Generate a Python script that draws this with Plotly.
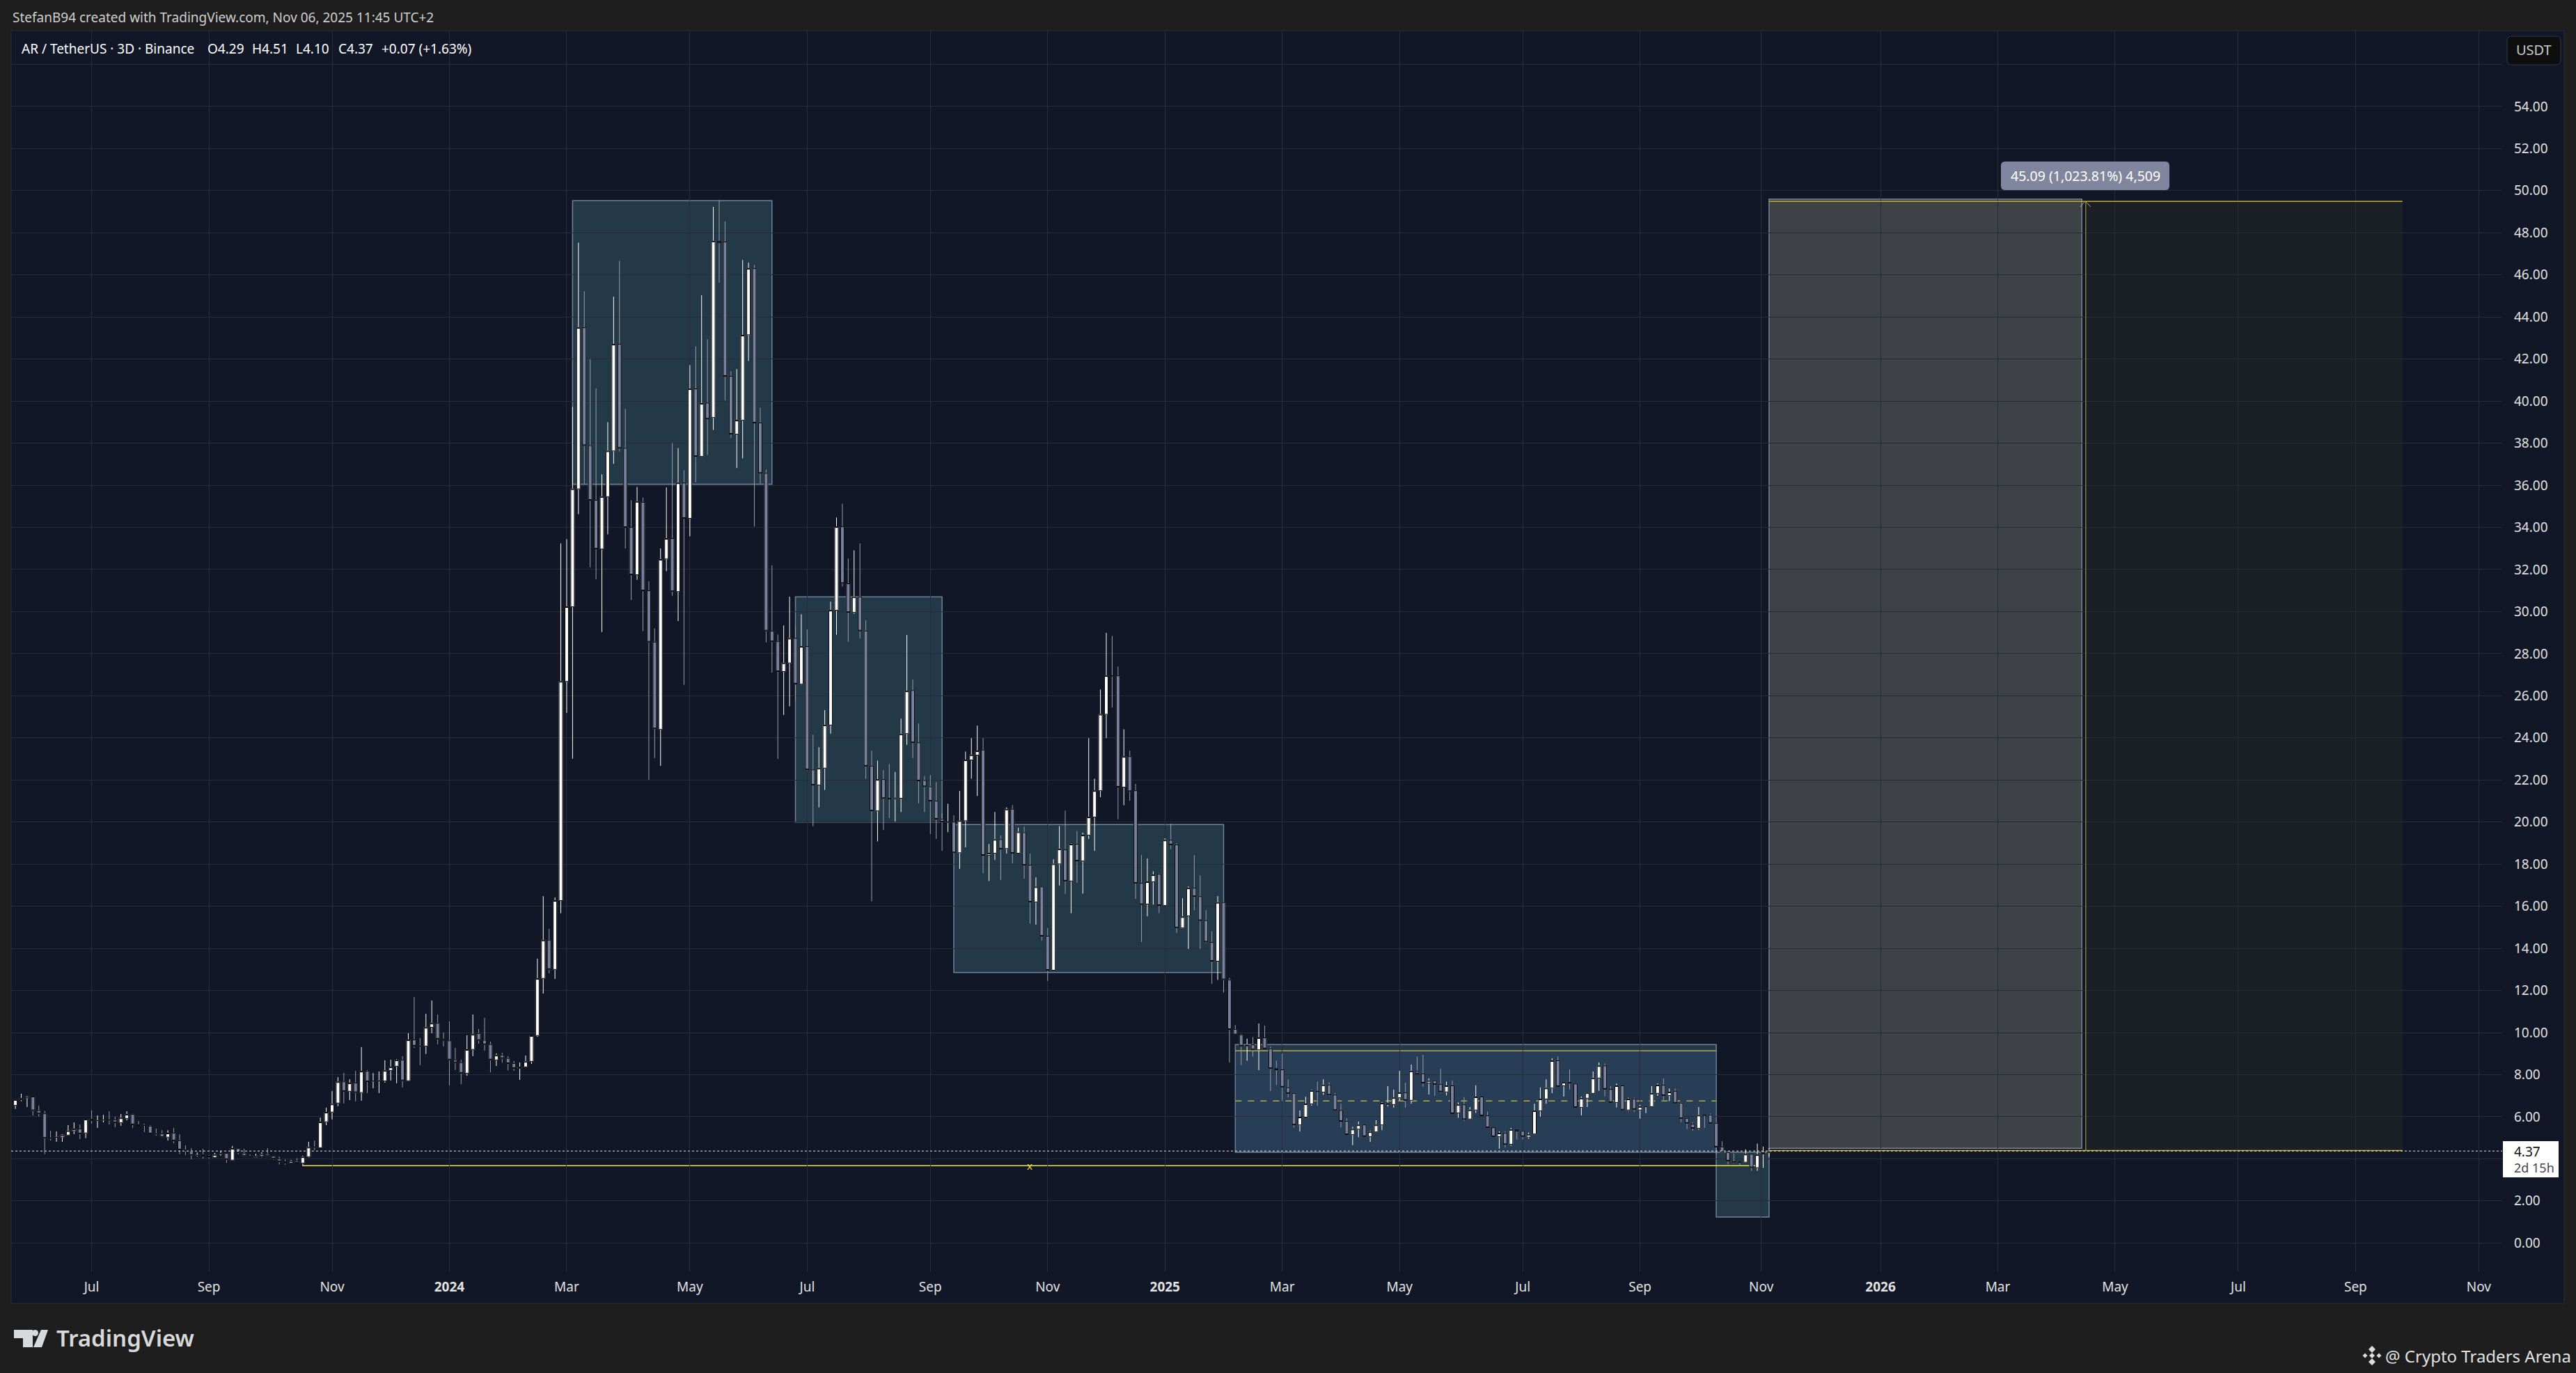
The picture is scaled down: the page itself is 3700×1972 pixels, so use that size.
import pandas as pd
import plotly.graph_objects as go

# 3D candles
opens = [6.54,6.81,6.89,6.94,6.29,6.14,4.99,5.02,5.03,5.13,5.33,5.42,5.23,5.89,5.81,5.84,5.85,5.85,5.72,5.92,
    6.11,5.62,5.60,5.55,5.19,5.19,5.03,5.22,4.86,4.43,4.35,4.16,4.19,4.13,4.07,4.24,4.26,3.94,4.49,4.27,
    4.12,4.07,4.13,4.23,4.12,3.99,3.86,3.80,3.90,3.80,4.10,
    4.56,4.53,5.76,6.22,6.65,7.66,7.21,7.60,7.15,8.16,7.69,7.70,7.70,8.20,8.40,8.69,7.71,9.65,9.36,9.36,
    10.25,10.44,9.68,9.61,8.70,8.57,8.07,9.20,9.95,9.63,9.43,8.70,8.92,8.77,8.53,8.30,8.37,8.63,9.86,12.57,
    14.39,13.0,16.27,
    26.68,30.23,35.83,43.49,37.89,35.29,32.97,35.46,37.63,42.7,37.76,34.0,31.75,35.19,30.99,28.55,24.4,32.5,33.47,30.95,
    36.11,34.43,40.58,37.37,39.91,39.22,47.6,47.56,41.18,38.43,39.09,43.15,46.3,38.96,36.57,
    29.07,28.58,27.15,27.56,28.73,26.56,28.34,22.48,21.76,22.56,24.61,30.06,34.03,31.32,29.96,30.7,29.08,22.66,20.53,22.02,
    21.12,21.08,21.13,24.2,26.25,23.77,21.98,21.68,21.0,20.14,19.99,20.0,18.54,20.06,22.95,23.18,23.42,18.42,18.52,19.17,
    18.74,20.61,18.52,19.5,17.95,16.2,16.92,14.58,12.96,18.01,18.68,17.2,18.95,18.15,19.38,20.24,21.49,25.12,26.95,26.95,
    21.66,23.11,21.49,17.09,16.1,17.16,17.52,16.04,19.14,18.92,14.97,15.54,16.86,16.46,15.32,14.28,13.39,16.18,12.49,
    10.15,9.89,9.36,9.42,9.18,9.75,9.23,8.29,8.23,7.38,7.11,5.61,5.98,6.61,7.21,7.17,7.51,7.03,6.3,5.78,
    5.15,5.41,5.61,5.06,5.28,5.61,6.58,6.58,6.9,7.14,6.78,8.17,8.04,7.6,7.71,7.54,7.18,7.47,6.18,6.57,
    5.89,6.32,6.94,6.05,5.48,5.05,5.22,4.69,5.39,5.31,5.03,5.18,6.28,6.84,7.36,8.66,7.47,7.63,7.56,6.44,
    6.88,7.11,7.84,8.42,7.3,6.68,7.47,6.32,6.84,6.32,6.48,6.48,7.11,7.5,7.01,7.21,6.65,5.92,5.65,5.45,
    6.08,6.08,5.69,4.56,4.3,3.86,3.85,3.84,4.22,3.58,4.23,4.29]
highs = [6.81,7.09,6.99,6.94,6.53,6.28,5.33,5.30,5.17,5.60,5.73,5.63,5.88,6.30,6.06,6.09,6.26,6.0,6.13,6.26,
    6.15,5.80,5.67,5.60,5.44,5.36,5.36,5.47,5.17,4.64,4.51,4.30,4.48,4.17,4.28,4.37,4.27,4.61,4.49,4.48,
    4.21,4.24,4.31,4.51,4.13,4.10,3.97,3.95,4.03,4.15,4.81,
    4.87,5.96,6.43,7.22,7.88,8.08,7.78,8.18,9.31,8.22,8.08,8.15,8.68,8.71,8.74,8.88,9.97,11.69,9.74,10.89,
    11.52,10.86,10.0,10.53,9.27,8.71,9.87,10.86,10.17,10.70,9.57,9.01,9.04,8.88,8.65,8.58,8.91,9.85,13.51,16.48,
    14.93,16.42,33.24,
    33.44,39.72,47.53,45.22,42.0,40.61,36.52,39.0,44.96,46.67,39.63,35.29,35.92,35.42,31.44,29.2,33.0,35.9,38.0,37.77,
    36.72,41.71,42.6,45.03,42.94,49.23,49.54,48.54,41.42,41.52,46.71,46.58,46.47,39.69,36.75,
    32.2,28.91,29.34,30.71,29.3,29.87,29.15,24.15,23.56,25.32,30.47,34.47,35.13,32.52,32.91,33.24,29.58,23.39,22.92,22.47,
    22.76,22.38,24.91,28.89,26.77,24.68,22.18,22.24,21.9,20.4,20.87,20.32,21.48,23.35,23.99,24.58,23.99,18.96,20.48,19.36,
    20.7,20.81,19.73,19.78,18.5,17.37,16.94,14.97,18.23,19.81,20.54,18.99,19.58,19.5,23.99,22.06,26.3,28.99,28.84,27.38,
    24.41,23.39,21.81,18.43,18.27,17.66,17.58,19.23,19.92,18.99,16.38,16.94,18.43,17.47,15.82,14.81,16.48,16.2,12.6,
    10.35,9.93,9.71,9.79,10.43,10.33,9.33,8.67,9.0,7.77,7.11,6.3,6.95,7.29,7.67,7.78,7.64,7.12,6.62,5.93,
    5.52,5.77,5.61,5.34,5.83,6.7,7.45,7.29,8.18,7.62,8.48,8.86,8.94,7.82,7.71,8.28,7.67,7.73,6.68,6.93,
    6.46,7.49,6.94,6.24,5.48,5.3,5.3,5.47,5.41,5.32,5.25,6.62,7.39,7.78,8.78,8.86,7.63,8.25,7.56,6.96,
    7.13,8.15,8.58,8.53,7.45,7.58,7.47,6.9,6.9,6.57,6.49,7.45,7.58,7.82,7.34,7.34,6.68,5.92,5.74,6.46,
    6.08,6.15,5.69,4.84,4.36,4.25,3.86,4.45,4.23,4.72,4.58,4.51]
lows = [6.37,6.74,6.46,6.06,6.01,4.22,4.87,4.81,4.81,5.12,5.17,4.94,4.98,5.67,5.47,5.73,5.63,5.50,5.57,5.83,
    5.47,5.58,5.27,5.18,5.10,5.0,4.87,4.74,4.22,4.18,3.98,4.11,4.01,4.01,4.06,4.15,3.81,3.93,4.21,4.11,
    4.06,4.06,4.09,4.11,3.95,3.73,3.72,3.79,3.79,3.65,4.06,
    4.41,4.52,5.60,5.87,6.50,6.63,6.79,6.73,6.76,7.12,7.35,7.12,7.62,7.72,7.59,7.39,7.71,9.27,8.45,8.98,
    9.97,9.44,9.34,7.49,8.22,7.55,7.95,8.88,9.47,9.14,8.11,8.41,8.57,8.20,8.18,7.75,8.37,8.51,9.80,11.85,
    12.81,12.55,15.67,
    25.19,23.01,34.63,36.05,32.1,31.53,29.03,33.67,37.02,37.6,33.0,30.55,31.51,29.07,22.01,23.04,22.67,31.92,30.75,29.55,
    26.52,33.58,36.14,37.37,37.44,38.63,45.62,40.03,38.25,36.82,37.28,41.91,34.04,36.08,28.54,
    27.1,23.0,25.09,25.5,25.76,26.52,22.43,19.8,20.7,21.52,24.2,28.9,31.19,28.57,29.9,28.73,22.05,16.23,19.08,19.62,
    20.19,20.03,20.48,23.67,23.04,20.89,20.48,19.43,19.2,18.63,19.52,18.54,17.78,18.8,22.06,21.24,17.57,17.2,18.2,17.25,
    18.5,18.04,18.52,17.3,15.17,15.13,14.37,12.45,12.95,16.99,16.58,15.67,17.11,16.6,19.2,18.63,21.18,23.99,25.44,20.13,
    20.8,21.01,16.35,14.3,15.52,16.08,15.67,16.02,18.71,14.73,14.96,13.97,15.8,13.97,14.24,12.32,12.5,11.9,8.58,
    9.88,8.45,8.66,8.86,8.21,9.23,7.22,7.51,6.74,6.92,5.49,5.3,5.98,6.53,6.52,7.04,6.98,6.3,5.49,5.14,
    4.65,5.03,5.05,4.8,5.28,5.36,6.49,6.43,6.74,6.43,6.62,8.04,7.43,7.06,6.99,7.12,7.01,6.15,5.95,5.8,
    5.87,6.18,6.04,5.47,5.03,4.48,4.54,4.62,4.92,4.92,4.95,5.18,6.0,6.62,7.12,7.44,6.96,7.29,6.44,6.06,
    6.46,7.1,7.23,6.97,6.68,6.44,6.32,6.28,6.23,5.91,6.17,6.47,6.99,6.79,6.74,6.65,5.74,5.41,5.34,5.39,
    5.47,5.69,4.25,4.28,3.73,3.79,3.67,3.81,3.43,3.43,3.57,4.10]
closes = [6.81,6.87,6.95,6.29,6.14,4.98,4.98,5.03,5.13,5.33,5.42,5.19,5.88,5.82,5.82,5.85,5.84,5.72,5.94,6.11,
    5.62,5.59,5.59,5.19,5.18,5.03,5.22,4.86,4.43,4.37,4.17,4.17,4.13,4.08,4.20,4.26,3.97,4.49,4.30,4.12,
    4.07,4.12,4.22,4.12,3.99,3.86,3.80,3.89,3.80,4.09,4.55,
    4.55,5.75,6.21,6.60,7.66,7.21,7.60,7.15,8.16,7.67,7.70,7.71,8.19,8.36,8.69,7.71,9.65,9.36,9.35,10.24,
    10.44,9.69,9.61,8.70,8.57,8.07,9.19,9.91,9.63,9.43,8.70,8.92,8.77,8.53,8.30,8.36,8.62,9.85,12.56,14.39,
    13.0,16.27,26.68,
    30.23,35.83,43.49,37.89,35.29,32.97,35.46,37.63,42.7,37.76,34.0,31.75,35.23,30.99,28.55,24.43,32.48,33.47,30.95,36.11,
    34.43,40.58,37.37,39.89,39.15,47.6,47.52,41.18,38.43,39.09,43.13,46.3,38.96,36.57,29.08,
    28.57,27.15,27.56,28.73,26.56,28.34,22.49,21.76,22.56,24.61,30.06,34.03,31.34,29.96,30.7,29.08,22.66,20.53,22.02,21.12,
    21.11,21.15,24.18,26.23,23.77,21.96,21.68,21.0,20.14,20.0,20.0,18.54,20.06,22.95,23.19,23.38,18.42,18.52,19.17,18.72,
    20.61,18.52,19.53,17.95,16.2,16.92,14.58,12.96,18.01,18.72,17.2,18.95,18.15,19.38,20.24,21.49,25.12,26.95,26.94,21.66,
    23.11,21.45,17.09,16.08,17.16,17.49,16.04,19.14,18.92,14.97,15.5,16.86,16.46,15.32,14.3,13.39,16.18,12.51,10.15,
    9.89,9.36,9.41,9.18,9.75,9.23,8.29,8.23,7.41,7.11,5.61,5.98,6.61,7.24,7.2,7.51,7.03,6.3,5.78,5.15,
    5.41,5.61,5.06,5.28,5.61,6.64,6.65,6.9,7.14,6.78,8.17,8.04,7.6,7.71,7.54,7.18,7.47,6.15,6.57,5.87,
    6.32,6.94,6.05,5.48,5.05,5.22,4.68,5.39,5.31,5.06,5.16,6.28,6.84,7.36,8.66,7.44,7.63,7.6,6.44,6.88,
    7.13,7.84,8.42,7.31,6.68,7.47,6.32,6.84,6.35,6.48,6.49,7.11,7.5,7.01,7.17,6.65,5.92,5.69,5.45,6.07,
    6.07,5.69,4.56,4.31,3.9,3.85,3.84,4.22,3.58,4.19,4.29,4.37]

tick_dates = ["2023-07-01", "2023-08-30", "2023-11-01", "2023-12-31", "2024-02-29", "2024-05-02", "2024-07-01",
              "2024-09-02", "2024-11-01", "2024-12-31", "2025-03-01", "2025-04-30", "2025-07-02", "2025-08-31",
              "2025-11-01", "2026-01-01", "2026-03-02", "2026-05-01", "2026-07-03", "2026-09-01", "2026-11-03"]
tick_labels = ["Jul", "Sep", "Nov", "<b>2024</b>", "Mar", "May", "Jul", "Sep", "Nov", "<b>2025</b>", "Mar", "May",
               "Jul", "Sep", "Nov", "<b>2026</b>", "Mar", "May", "Jul", "Sep", "Nov"]
price_ticks = list(range(0, 58, 2))
# 4.00 sits under the last price tag, 56.00 under the currency button
price_labels = ["" if p in (4, 56) else "%.2f" % p for p in price_ticks]

# (start, end, top, bottom) rectangles on the chart
teal_boxes = [("2024-03-03", "2024-06-13", 49.52, 36.05),
              ("2024-06-25", "2024-09-08", 30.70, 20.0),
              ("2024-09-14", "2025-01-30", 19.88, 12.85),
              ("2025-02-05", "2025-10-09", 9.43, 4.31),
              ("2025-10-09", "2025-11-05", 4.31, 1.23)]
range_box = ("2025-02-05", "2025-10-09", 9.13, 4.37)
range_mid = 6.75
target_start = "2025-11-05"
target_end = "2026-04-14"
arrow_date = "2026-04-16"
panel_end = "2026-09-25"
target_top = 49.49
target_bottom = 4.39
low_line = ("2023-10-17", "2025-10-29", 3.67)
low_mark = "2024-10-23"
last_price = 4.37

legend_name = "AR / TetherUS · 3D · Binance"
legend_values = ["O4.29", "H4.51", "L4.10", "C4.37", "+0.07 (+1.63%)"]
legend_starts = [297, 361, 424, 485, 547]

W, H = 3700, 1972
L, R, T, B = 16, 3594, 44, 1827
FONT = "Noto Sans"


def fx(px):
    return (px - L) / (R - L)


def fy(py):
    return (B - py) / (B - T)


def rounded(x0, y0, x1, y1, r):
    return (f"M{fx(x0 + r)},{fy(y0)} L{fx(x1 - r)},{fy(y0)} Q{fx(x1)},{fy(y0)} {fx(x1)},{fy(y0 + r)} "
            f"L{fx(x1)},{fy(y1 - r)} Q{fx(x1)},{fy(y1)} {fx(x1 - r)},{fy(y1)} "
            f"L{fx(x0 + r)},{fy(y1)} Q{fx(x0)},{fy(y1)} {fx(x0)},{fy(y1 - r)} "
            f"L{fx(x0)},{fy(y0 + r)} Q{fx(x0)},{fy(y0)} {fx(x0 + r)},{fy(y0)} Z")


def poly(points):
    return "M" + " L".join(f"{fx(a)},{fy(b)}" for a, b in points) + " Z"


def diamond(cx, cy, r):
    return poly([(cx, cy - r), (cx + r, cy), (cx, cy + r), (cx - r, cy)])


dates = pd.date_range(end="2025-11-05", periods=len(opens), freq="3D")

fig = go.Figure()

# wicks
fig.add_trace(go.Candlestick(
    x=dates, open=opens, high=highs, low=lows, close=closes,
    increasing=dict(line=dict(color="#ffffff", width=1), fillcolor="#ffffff"),
    decreasing=dict(line=dict(color="#9a9ea9", width=1), fillcolor="#78829e"),
    whiskerwidth=0, hoverinfo="skip", showlegend=False))
# bodies with the black edge
fig.add_trace(go.Candlestick(
    x=dates, open=opens, close=closes,
    high=[max(o, c) for o, c in zip(opens, closes)],
    low=[min(o, c) for o, c in zip(opens, closes)],
    increasing=dict(line=dict(color="#000000", width=1), fillcolor="#ffffff"),
    decreasing=dict(line=dict(color="#000000", width=1), fillcolor="#78829e"),
    whiskerwidth=0, hoverinfo="skip", showlegend=False))

shapes = [dict(type="rect", xref="paper", yref="paper", x0=fx(16), x1=fx(3683), y0=fy(44), y1=fy(1872),
               fillcolor="#111726", line=dict(color="#27303c", width=1), layer="below")]

for x0, x1, top, bottom in teal_boxes:
    shapes.append(dict(type="rect", x0=x0, x1=x1, y0=bottom, y1=top, layer="below",
                       fillcolor="rgba(70,120,130,0.36)", line=dict(color="#71849b", width=1.5)))
shapes.append(dict(type="rect", x0=range_box[0], x1=range_box[1], y0=range_box[3], y1=range_box[2], layer="below",
                   fillcolor="rgba(60,80,150,0.2)", line=dict(width=0)))
shapes.append(dict(type="line", x0=range_box[0], x1=range_box[1], y0=range_box[2], y1=range_box[2], layer="below",
                   line=dict(color="#b5aa4a", width=1.5)))
shapes.append(dict(type="line", x0=range_box[0], x1=range_box[1], y0=range_mid, y1=range_mid, layer="below",
                   line=dict(color="#b5aa4a", width=1.5, dash="dash")))

# target projection
shapes.append(dict(type="rect", x0=arrow_date, x1=panel_end, y0=target_bottom, y1=target_top, layer="below",
                   fillcolor="rgba(60,60,40,0.25)", line=dict(width=0)))
shapes.append(dict(type="rect", x0=target_start, x1=target_end, y0=4.5, y1=49.6, layer="below",
                   fillcolor="rgba(120,120,110,0.44)", line=dict(color="#7f8396", width=1.5)))
for level in (target_top, target_bottom):
    shapes.append(dict(type="line", x0=target_start, x1=panel_end, y0=level, y1=level,
                       line=dict(color="#c4ae38", width=1.5)))
shapes.append(dict(type="line", x0=arrow_date, x1=arrow_date, y0=target_bottom, y1=target_top,
                   line=dict(color="#c4ae38", width=1)))
shapes.append(dict(type="path", xref="paper", yref="paper", line=dict(color="#c4ae38", width=1),
                   path=f"M{fx(2988)},{fy(297)} L{fx(2995)},{fy(289)} L{fx(3003)},{fy(297)}"))

# support line and last price
shapes.append(dict(type="line", x0=low_line[0], x1=low_line[1], y0=low_line[2], y1=low_line[2], layer="below",
                   line=dict(color="#f0dc3c", width=1.5)))
shapes.append(dict(type="line", xref="paper", x0=0, x1=1, y0=last_price, y1=last_price,
                   line=dict(color="#e8e8e8", width=1, dash="dot")))

# panels and labels off the chart
shapes.append(dict(type="path", xref="paper", yref="paper", path=rounded(3601, 52, 3678, 93, 7),
                   fillcolor="#0e0e0e", line=dict(color="#2e3a44", width=1)))
shapes.append(dict(type="path", xref="paper", yref="paper", path=rounded(2874, 232, 3116, 273, 6),
                   fillcolor="#7f869e", line=dict(width=0)))
shapes.append(dict(type="rect", xref="paper", yref="paper", x0=fx(3595), x1=fx(3675), y0=fy(1639), y1=fy(1691),
                   fillcolor="#ffffff", line=dict(width=0)))

# TradingView mark
LOGO = "#d8d9db"
shapes.append(dict(type="path", xref="paper", yref="paper", line=dict(width=0), fillcolor=LOGO,
                   path=poly([(20, 1910), (47, 1910), (47, 1935), (33, 1935), (33, 1922), (20, 1922)])))
shapes.append(dict(type="circle", xref="paper", yref="paper", line=dict(width=0), fillcolor=LOGO,
                   x0=fx(46), x1=fx(55), y0=fy(1910), y1=fy(1919)))
shapes.append(dict(type="path", xref="paper", yref="paper", line=dict(width=0), fillcolor=LOGO,
                   path=poly([(59, 1910), (69, 1910), (60, 1935), (48, 1935)])))

# Binance mark
for cx, cy, r in [(3407, 1938, 5), (3407, 1947, 4), (3407, 1956, 5), (3397, 1947, 3.5), (3417, 1947, 3.5)]:
    shapes.append(dict(type="path", xref="paper", yref="paper", path=diamond(cx, cy, r),
                       fillcolor="#dcdcdc", line=dict(width=0)))


def text_at(px, py, text, size, color, anchor="left", weight=None):
    return dict(xref="paper", yref="paper", x=fx(px), y=fy(py), text=text, showarrow=False,
                xanchor=anchor, yanchor="middle", borderpad=0, align=anchor,
                font=dict(family=FONT, size=size, color=color, weight=weight))


annotations = [
    text_at(17, 25, "StefanB94 created with TradingView.com, Nov 06, 2025 11:45 UTC+2", 19, "#cfcfcf"),
    text_at(30, 70, legend_name, 19, "#ffffff"),
    text_at(3639, 72, "USDT", 20, "#c9c9c9", "center"),
    text_at(2995, 252, "45.09 (1,023.81%) 4,509", 19.5, "#ffffff", "center"),
    text_at(3610, 1654, "4.37", 19, "#111111"),
    text_at(3610, 1677, "2d 15h", 18, "#444444"),
    text_at(80, 1922, "TradingView", 33, LOGO, weight=600),
    text_at(3425, 1947, "@ Crypto Traders Arena", 24, "#e2e2e2"),
    dict(x=low_mark, y=low_line[2], text="x", showarrow=False, font=dict(family=FONT, size=15, color="#f0dc3c")),
]
for start, value in zip(legend_starts, legend_values):
    annotations.append(text_at(start, 70, value, 19, "#ffffff"))

fig.update_layout(
    width=W, height=H, autosize=False,
    margin=dict(l=L, r=W - R, t=T, b=H - B, pad=0),
    paper_bgcolor="#1e1e1e", plot_bgcolor="rgba(0,0,0,0)",
    boxmode="overlay", boxgap=0.16,
    showlegend=False, shapes=shapes, annotations=annotations,
    font=dict(family=FONT),
)
fig.update_xaxes(
    type="date", range=["2023-05-20 20:00", "2026-11-15"], rangeslider_visible=False,
    tickmode="array", tickvals=tick_dates, ticktext=tick_labels,
    showgrid=True, gridcolor="#272c39", gridwidth=1, zeroline=False, showline=False, ticks="",
    tickfont=dict(family=FONT, size=19, color="#e2e2e2"), ticklabelstandoff=8,
)
fig.update_yaxes(
    side="right", range=[(1785.3 - 1827) / 30.23, (1785.3 - 44) / 30.23],
    tickmode="array", tickvals=price_ticks, ticktext=price_labels,
    showgrid=True, gridcolor="#272c39", gridwidth=1, zeroline=False, showline=False, ticks="",
    tickfont=dict(family=FONT, size=19, color="#e2e2e2"), ticklabelstandoff=16,
)

fig.write_html("out.html", config=dict(displayModeBar=False),
               post_script="document.body.style.margin='0';document.body.style.overflow='hidden';")
